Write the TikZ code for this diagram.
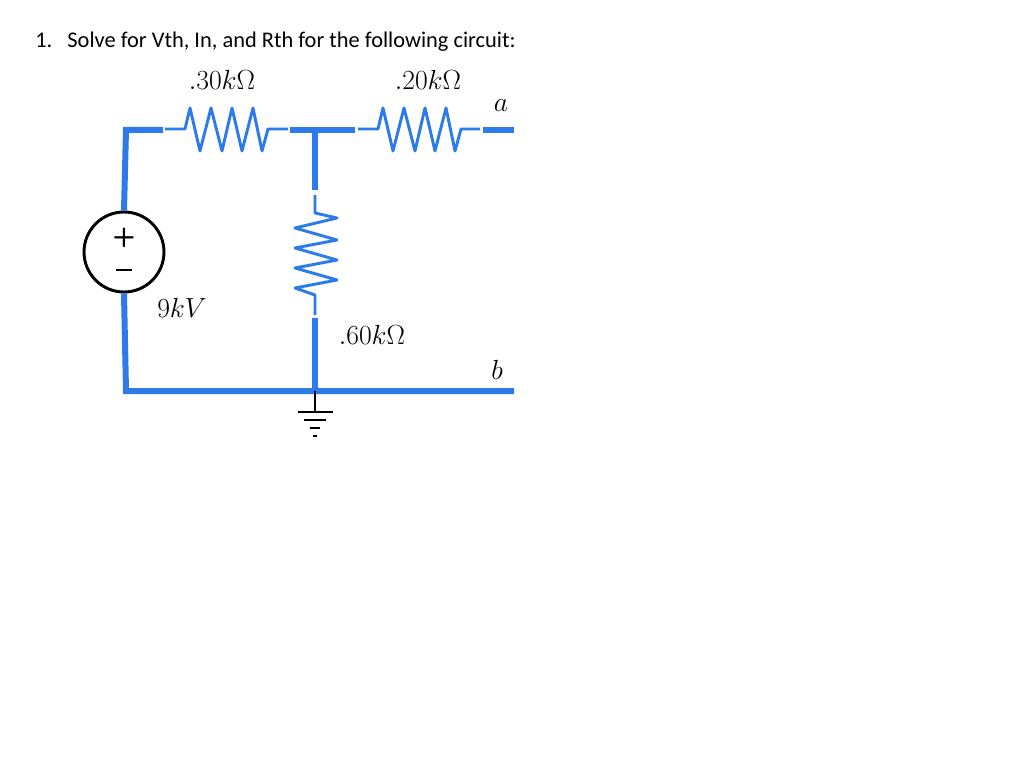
\documentclass[tikz,border=0pt]{standalone}
\usepackage{fontspec}
\newfontfamily\carl{Carlito}
\begin{document}
\begin{tikzpicture}[x=0.75pt,y=-0.75pt,
  thick wire/.style={draw=wblue,line width=4.5pt},
  thin wire/.style={draw=wblue,line width=2.2pt,line join=round},
  lab/.style={font=\fontsize{22}{26}\selectfont,inner sep=0pt}]
\definecolor{wblue}{HTML}{2D7BEB}
\useasboundingbox (0,0) rectangle (1024,777);
\fill[white] (0,0) rectangle (1024,777);
\node[anchor=west,font=\carl\fontsize{16.8}{20}\selectfont,inner sep=0pt] (title) at (35,42) {1.\ \ \ Solve for Vth, In, and Rth for the following circuit:};
% coordinates
\coordinate (j) at (315,130);
\coordinate (g) at (315,391);
\coordinate (a) at (514,130);
\coordinate (b) at (514,391);
\node[draw=black,line width=2.2pt,circle,minimum size=60pt,inner sep=0pt] (src) at (124,252) {};
\node[font=\sffamily\bfseries\fontsize{20}{20}\selectfont] (plus) at (124,238) {+};
\draw[line width=1.8pt] (116,270) -- (132,270);
% left wires
\draw[thick wire,line join=miter] (src.north) -- (126,130) -- (163,130);
\draw[thick wire,line join=miter] (src.south) -- (126,391) -- (b);
% R1
\draw[thin wire] (165,129) -- (185,129) -- (190,108) -- (200,151) -- (211,108) -- (222,151) -- (232,108) -- (242,151) -- (253,108) -- (262,151) -- (268,129) -- (288,129);
\draw[thick wire] (290,130) -- (355,130);
% R2
\draw[thin wire] (358,129) -- (378,129) -- (383,108) -- (393,151) -- (404,108) -- (415,151) -- (425,108) -- (435,151) -- (446,108) -- (455,151) -- (461,129) -- (480,129);
\draw[thick wire] (483,130) -- (a);
% R3 vertical
\draw[thick wire] (j) -- (315,190);
\draw[thin wire] (315,195) -- (315,213) -- (337,218) -- (295,228) -- (337,240) -- (295,248) -- (337,260) -- (295,268) -- (337,280) -- (295,288) -- (315,295) -- (315,315);
\draw[thick wire] (315,318) -- (g);
% ground
\draw[line width=1pt] (g) -- (315,412);
\draw[line width=1pt] (298,412) -- (333,412) (304,420) -- (326,420) (310,428) -- (320,428) (313,436) -- (317,436);
% labels
\node[lab] (l1) at (222,80) {$.30k\Omega$};
\node[lab] (l2) at (428,80) {$.20k\Omega$};
\node[lab] (la) at (501,106) {$a$};
\node[lab] (lv) at (182,308) {$9kV$};
\node[lab] (l3) at (372,335) {$.60k\Omega$};
\node[lab] (lb) at (497,370) {$b$};
\end{tikzpicture}
\end{document}
